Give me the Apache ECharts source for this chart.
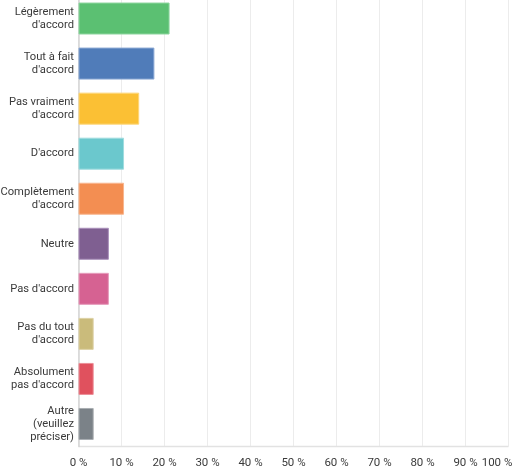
<!DOCTYPE html>
<html>
<head>
<meta charset="utf-8">
<script src="https://cdn.jsdelivr.net/npm/echarts@6/dist/echarts.min.js"></script>
<style>
html,body{margin:0;padding:0;background:#fff;}
#chart{width:514px;height:473px;}
</style>
</head>
<body>
<div id="chart"></div>
<script>
var categories = ["Légèrement\nd'accord", "Tout à fait\nd'accord", "Pas vraiment\nd'accord", "D'accord", "Complètement\nd'accord", "Neutre", "Pas d'accord", "Pas du tout\nd'accord", "Absolument\npas d'accord", "Autre\n(veuillez\npréciser)"];
var values = [21.18, 17.65, 14.12, 10.59, 10.59, 7.06, 7.06, 3.53, 3.53, 3.53];
var colors = ["#5bc072", "#507cb9", "#fbc034", "#6bc8cd", "#f38e52", "#7f5f91", "#d66292", "#cabb7b", "#e0515e", "#7b8288"];
var borders = ["#8fd6a0", "#8aa8d4", "#fdd67a", "#9fdcdf", "#f8b68f", "#a98fbb", "#e69bbb", "#ddd2a6", "#ec8f98", "#a9aeb2"];

var chart = echarts.init(document.getElementById('chart'));
chart.setOption({
  animation: false,
  grid: {left: 78.5, right: 5.5, top: -4, bottom: 26.5, containLabel: false, outerBoundsMode: 'none'},
  xAxis: {
    type: 'value', min: 0, max: 100, interval: 10,
    axisLine: {show: false},
    axisTick: {show: false},
    splitLine: {show: true, lineStyle: {color: '#ececec', width: 1}},
    axisLabel: {
      formatter: function (v) { return v === 100 ? '{m|' + v + ' %}' : v + ' %'; },
      color: '#3a3a3a', fontSize: 11.5,
      fontFamily: 'Roboto', margin: 11,
      showMaxLabel: true, showMinLabel: true, hideOverlap: false,
      rich: {m: {padding: [0, 23, 0, 0], fontSize: 11.5, fontFamily: 'Roboto', color: '#3a3a3a'}}
    }
  },
  yAxis: {
    type: 'category', data: categories, inverse: true,
    axisLine: {show: true, lineStyle: {color: '#d4d4d4', width: 1.5}},
    axisTick: {show: false},
    axisLabel: {color: '#3a3a3a', fontSize: 11.2, fontFamily: 'Roboto', lineHeight: 12.8, margin: 4.5, align: 'right'}
  },
  series: [{
    type: 'bar',
    barWidth: 32,
    data: values.map(function(v, i){
      return {value: v, itemStyle: {color: colors[i], borderColor: borders[i], borderWidth: 1}};
    })
  }]
});
var gridRect = chart.getModel().getComponent('grid').coordinateSystem.getRect();
chart.setOption({
  graphic: [{
    type: 'line', silent: true, z: 0,
    shape: {x1: gridRect.x, y1: gridRect.y + gridRect.height, x2: gridRect.x + gridRect.width, y2: gridRect.y + gridRect.height},
    style: {stroke: '#e2e2e2', lineWidth: 1.5}
  }]
});
</script>
</body>
</html>
